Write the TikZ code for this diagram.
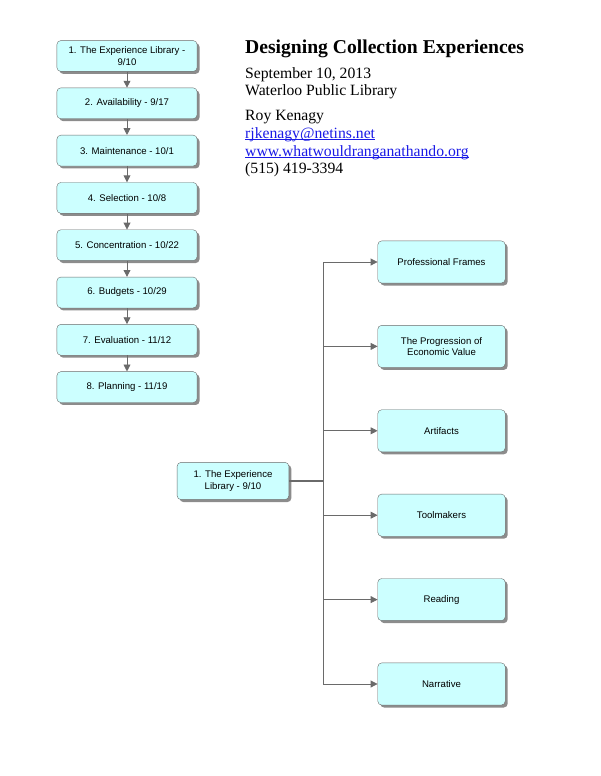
\documentclass[tikz,border=0pt]{standalone}
\usepackage{fontspec}
\setmainfont{Liberation Serif}
\setsansfont{Liberation Sans}
\usetikzlibrary{positioning,arrows.meta,shadows}

\definecolor{boxfill}{HTML}{CCFFFF}
\definecolor{boxline}{HTML}{6A6A6A}
\definecolor{linkblue}{HTML}{1A1AE6}

\tikzset{
  session/.style={draw=boxline, fill=boxfill, rounded corners=4pt, align=center,
    font=\sffamily\fontsize{9.8}{11.5}\selectfont, inner sep=1pt,
    drop shadow={shadow xshift=2.5pt, shadow yshift=-2.5pt, fill=black!45, opacity=1}},
  flow/.style={draw=boxline, line width=0.8pt, -{Triangle[length=7pt, width=7pt]}},
  header/.style={anchor=base west, inner sep=0pt, font=\fontsize{16}{18}\selectfont},
  linkrule/.style={draw=linkblue, line width=0.6pt},
}

\begin{document}
\begin{tikzpicture}[x=1.02pt, y=-1.02pt]
\useasboundingbox (0,0) rectangle (600,776);

% Sessions of the course, one below the other
\foreach \t [count=\i] in {{1. The Experience Library -\\9/10}, {2. Availability - 9/17},
    {3. Maintenance - 10/1}, {4. Selection - 10/8}, {5. Concentration - 10/22},
    {6. Budgets - 10/29}, {7. Evaluation - 11/12}, {8. Planning - 11/19}}
  \node [session, minimum width=143pt, minimum height=31.5pt] (s\i) at (127, {56+(\i-1)*47.3}) {\t};

% Arrows from each session to the next
\foreach \i in {1,...,7} {
  \pgfmathtruncatemacro{\j}{\i+1}
  \draw [flow] (s\i) -- (s\j);
}

% Title and contact details
\node [header, font=\bfseries\fontsize{20}{22}\selectfont] (title) at (245,53) {Designing Collection Experiences};
\node [header] (date) at (245,78) {September 10, 2013};
\node [header] (place) at (245,95.5) {Waterloo Public Library};
\node [header] (name) at (245,120) {Roy Kenagy};
\node [header, text=linkblue] (mail) at (245,138) {rjkenagy@netins.net};
\node [header, text=linkblue] (web) at (245,156) {www.whatwouldranganathando.org};
\node [header] (phone) at (245,173.5) {(515) 419-3394};

% Links are underlined
\foreach \n in {mail,web}
  \draw [linkrule] ([yshift=-1.8pt]\n.base west) -- ([yshift=-1.8pt]\n.base east);

% First session and its topics
\node [session, minimum width=114pt, minimum height=38pt] (root) at (233,481) {1. The Experience\\Library - 9/10};

\foreach \t [count=\i] in {{Professional Frames}, {The Progression of\\Economic Value},
    {Artifacts}, {Toolmakers}, {Reading}, {Narrative}}
  \node [session, minimum width=130pt, minimum height=43pt] (b\i) at (441.5, {262+(\i-1)*84.4}) {\t};

% Trunk and branches
\coordinate (fork) at (323,481);
\draw [boxline, line width=1.2pt] (root.east) -- (fork);
\draw [boxline, line width=0.8pt] (fork |- b1) -- (fork |- b6);
\foreach \i in {1,...,6}
  \draw [flow] (fork |- b\i) -- (b\i.west);
\end{tikzpicture}
\end{document}
